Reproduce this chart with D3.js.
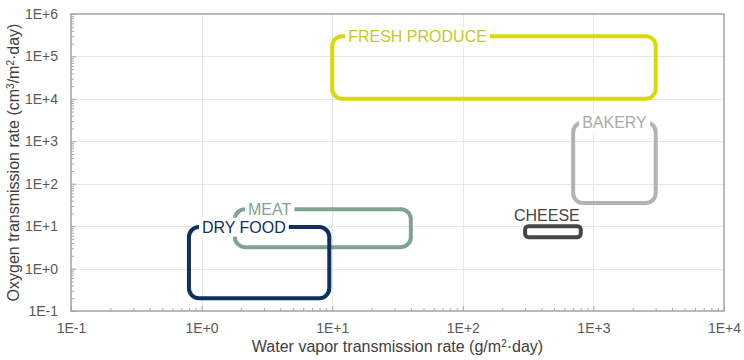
<!DOCTYPE html>
<html><head><meta charset="utf-8">
<script src="https://cdn.jsdelivr.net/npm/d3@7"></script>
<style>
body{margin:0;background:#fff;}
svg{display:block;font-family:"Liberation Sans",Arial,sans-serif;}
</style>
</head><body>
<svg id="c" width="744" height="360"></svg>
<script>
// ---- data ----
const categories = ["FRESH PRODUCE", "BAKERY", "CHEESE", "MEAT", "DRY FOOD"];
const wvtrMin = [10, 700, 300, 1.8, 0.8];     // g/m2·day
const wvtrMax = [3000, 3000, 800, 40, 9.5];
const otrMin  = [1e4, 35, 5.5, 3.2, 0.2];     // cm3/m2·day
const otrMax  = [3e5, 2800, 10, 25, 9.5];
const labelPlacement = ["left", "center", "above", "left", "left"];
const strokeColors = ["#d9d906", "#b3b3b3", "#454545", "#80a292", "#0e2f5f"];
const textColors   = ["#c8c82c", "#aaaaaa", "#454545", "#80a292", "#0e2f5f"];
const xTickValues = [0.1, 1, 10, 100, 1000, 10000];
const xTickLabels = ["1E-1", "1E+0", "1E+1", "1E+2", "1E+3", "1E+4"];
const yTickValues = [0.1, 1, 10, 100, 1000, 1e4, 1e5, 1e6];
const yTickLabels = ["1E-1", "1E+0", "1E+1", "1E+2", "1E+3", "1E+4", "1E+5", "1E+6"];

// ---- layout ----
const L = 71, R = 724, T = 14, B = 311;
const svg = d3.select("#c");
const x = d3.scaleLog().domain([0.1, 1e4]).range([L, R]);
const y = d3.scaleLog().domain([0.1, 1e6]).range([B, T]);
const isDecade = v => Math.abs(Math.log10(v) - Math.round(Math.log10(v))) < 1e-9;
const xMinor = x.ticks().filter(v => !isDecade(v));
const yMinor = y.ticks().filter(v => !isDecade(v));

// grid
const grid = svg.append("g").attr("stroke", "#e6e6e6").attr("stroke-width", 1);
grid.selectAll(".gx").data(xTickValues.slice(1, -1)).join("line")
  .attr("x1", d => Math.round(x(d)) + 0.5).attr("x2", d => Math.round(x(d)) + 0.5)
  .attr("y1", T).attr("y2", B);
grid.selectAll(".gy").data(yTickValues.slice(1, -1)).join("line")
  .attr("y1", d => Math.round(y(d)) + 0.5).attr("y2", d => Math.round(y(d)) + 0.5)
  .attr("x1", L).attr("x2", R);

// axes
function styleAxis(g) {
  g.select(".domain").remove();
  g.selectAll(".tick line").attr("stroke", "#a6a6a6");
  g.selectAll(".tick text").attr("fill", "#595959").attr("font-size", 14)
    .attr("font-family", '"Liberation Sans",Arial,sans-serif');
}
svg.append("g").attr("transform", `translate(0,${B})`)
  .call(d3.axisBottom(x).tickValues(xMinor).tickSize(-3).tickFormat(""))
  .call(styleAxis);
svg.append("g").attr("transform", `translate(0,${B})`)
  .call(d3.axisBottom(x).tickValues(xTickValues).tickSize(-5).tickPadding(12)
    .tickFormat((d, i) => xTickLabels[i]))
  .call(styleAxis);
svg.append("g").attr("transform", `translate(${L},0)`)
  .call(d3.axisLeft(y).tickValues(yMinor).tickSize(-3).tickFormat(""))
  .call(styleAxis);
svg.append("g").attr("transform", `translate(${L},0)`)
  .call(d3.axisLeft(y).tickValues(yTickValues).tickSize(-5).tickPadding(13)
    .tickFormat((d, i) => yTickLabels[i]))
  .call(styleAxis);

// frame
svg.append("rect").attr("x", L).attr("y", T).attr("width", R - L).attr("height", B - T)
  .attr("fill", "none").attr("stroke", "#a3a3a3").attr("stroke-width", 1.5);

// axis titles
const xt = svg.append("text").attr("x", (L + R) / 2).attr("y", 352)
  .attr("text-anchor", "middle").attr("font-size", 16).attr("fill", "#404040");
xt.append("tspan").text("Water vapor transmission rate (g/m");
xt.append("tspan").attr("baseline-shift", "super").attr("font-size", 10).text("2");
xt.append("tspan").text("·day)");

const yt = svg.append("text").attr("transform", `translate(19,${(T + B) / 2}) rotate(-90)`)
  .attr("text-anchor", "middle").attr("font-size", 16).attr("fill", "#404040");
yt.append("tspan").text("Oxygen transmission rate (cm");
yt.append("tspan").attr("baseline-shift", "super").attr("font-size", 10).text("3");
yt.append("tspan").text("/m");
yt.append("tspan").attr("baseline-shift", "super").attr("font-size", 10).text("2");
yt.append("tspan").text("·day)");

// boxes
categories.forEach((name, i) => {
  const x0 = x(wvtrMin[i]), x1 = x(wvtrMax[i]);
  const y0 = y(otrMax[i]), y1 = y(otrMin[i]);
  const h = y1 - y0;
  const r = Math.min(10, h * 0.3);
  const g = svg.append("g");
  g.append("rect").attr("x", x0).attr("y", y0).attr("width", x1 - x0).attr("height", h)
    .attr("rx", r).attr("ry", r).attr("fill", "none")
    .attr("stroke", strokeColors[i]).attr("stroke-width", 4);
  const place = labelPlacement[i];
  const bg = g.append("rect").attr("fill", "#fff");
  const t = g.append("text").text(name).attr("font-size", 16).attr("fill", textColors[i]);
  if (place === "left") {
    t.attr("x", x0 + (i === 0 ? 16 : 13)).attr("y", y0).attr("dy", "0.35em");
  } else if (place === "center") {
    t.attr("x", (x0 + x1) / 2).attr("y", y0).attr("dy", "0.35em").attr("text-anchor", "middle");
  } else {
    t.attr("x", x1 - 1).attr("y", y0 - 5).attr("text-anchor", "end");
  }
  if (place !== "above") {
    const bb = t.node().getBBox();
    bg.attr("x", bb.x - 3).attr("y", bb.y - 1).attr("width", bb.width + 6).attr("height", bb.height + 2);
  } else {
    bg.remove();
  }
});
</script>
</body></html>
